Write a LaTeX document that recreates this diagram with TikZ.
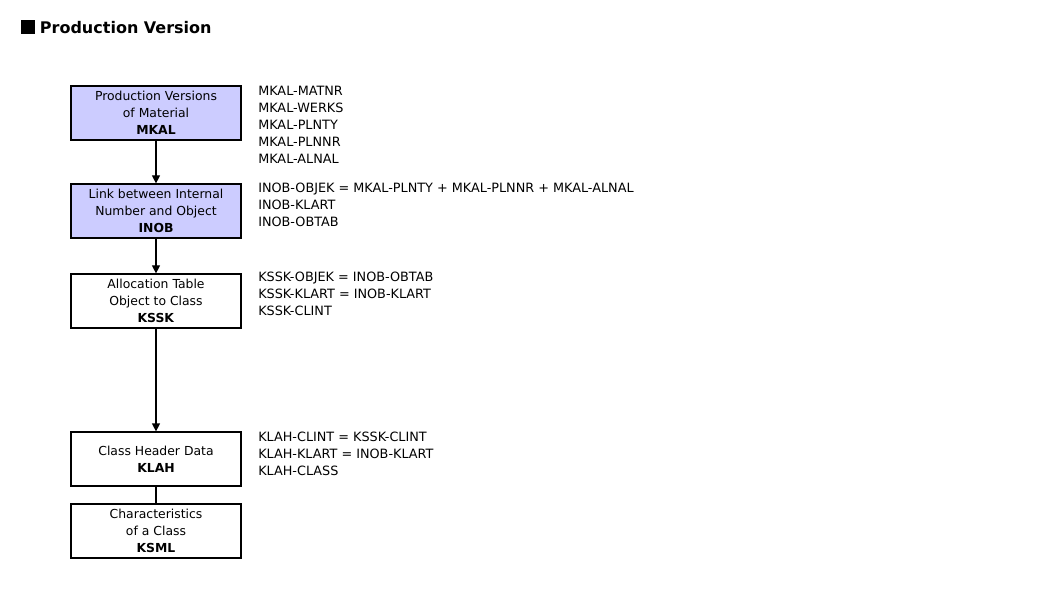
\documentclass[tikz,border=0pt]{standalone}
\usepackage{fontspec}
\setmainfont{DejaVu Sans}
\usetikzlibrary{arrows.meta}
\begin{document}
\begin{tikzpicture}[x=0.75pt,y=-0.75pt,
  tbl/.style={draw,line width=0.9pt,minimum width=127.5pt,minimum height=40.5pt,align=center,font=\fontsize{9.3}{12.6}\selectfont,inner sep=0pt},
  hl/.style={tbl,fill=blue!20},
  fld/.style={anchor=north west,align=left,font=\fontsize{9.6}{12.75}\selectfont,inner sep=0pt},
  arr/.style={-{Triangle[length=6pt,width=6pt]},line width=0.9pt},
  lnk/.style={line width=0.9pt}]
\useasboundingbox (0,0) rectangle (1052,609);
\node[anchor=west,font=\fontsize{12}{14}\selectfont\bfseries,inner sep=0pt] (title) at (21,27) {\rule{10pt}{10pt}\hspace{4pt}Production Version};
\node[hl] (mkal) at (156,113) {Production Versions\\of Material\\\textbf{MKAL}};
\node[hl] (inob) at (156,211) {Link between Internal\\Number and Object\\\textbf{INOB}};
\node[tbl] (kssk) at (156,301) {Allocation Table\\Object to Class\\\textbf{KSSK}};
\node[tbl] (klah) at (156,459) {Class Header Data\\\textbf{KLAH}};
\node[tbl] (ksml) at (156,531) {Characteristics\\of a Class\\\textbf{KSML}};
\draw[arr] (mkal) -- (inob);
\draw[arr] (inob) -- (kssk);
\draw[arr] (kssk) -- (klah);
\draw[lnk] (klah) -- (ksml);
\node[fld] (f1) at (258,86) {MKAL-MATNR\\MKAL-WERKS\\MKAL-PLNTY\\MKAL-PLNNR\\MKAL-ALNAL};
\node[fld] (f2) at (258,183) {INOB-OBJEK = MKAL-PLNTY + MKAL-PLNNR + MKAL-ALNAL\\INOB-KLART\\INOB-OBTAB};
\node[fld] (f3) at (258,272) {KSSK-OBJEK = INOB-OBTAB\\KSSK-KLART = INOB-KLART\\KSSK-CLINT};
\node[fld] (f4) at (258,432) {KLAH-CLINT = KSSK-CLINT\\KLAH-KLART = INOB-KLART\\KLAH-CLASS};
\end{tikzpicture}
\end{document}
